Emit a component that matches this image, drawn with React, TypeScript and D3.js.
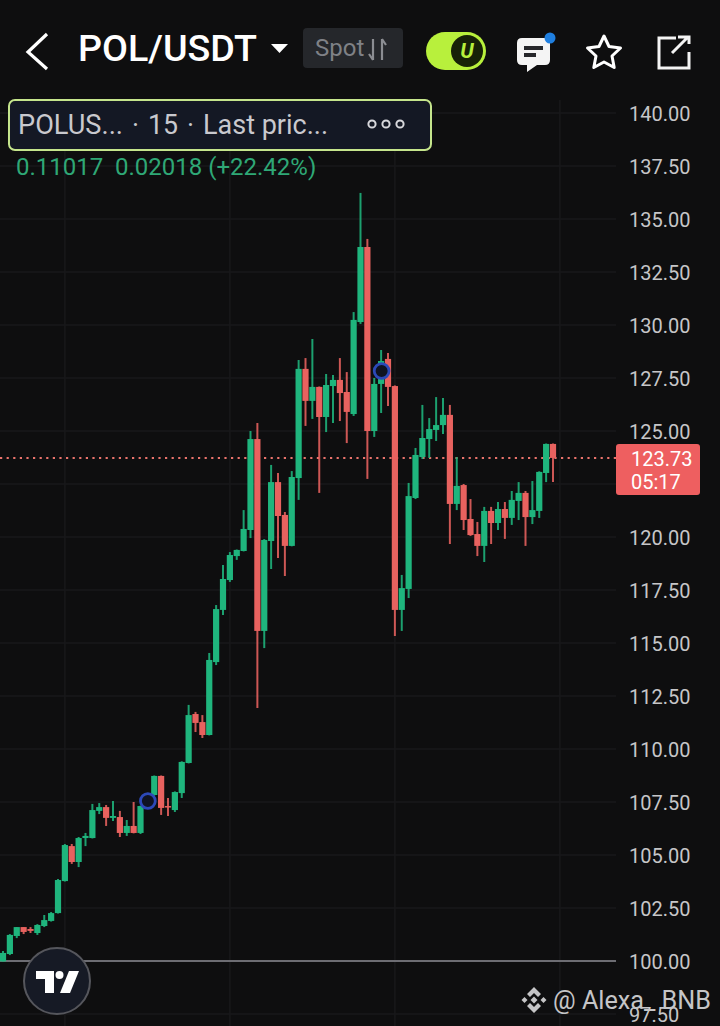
import React from "react";
import * as d3 from "d3";

const opens = [99.98,100.33,101.18,101.60,101.51,101.32,101.65,101.89,102.26,103.77,105.42,104.67,105.80,105.80,107.08,107.26,106.75,106.79,106.04,106.37,106.04,107.31,107.83,108.73,107.31,107.12,107.92,109.34,111.65,111.27,110.66,114.10,116.56,117.97,119.10,119.34,120.33,124.62,115.57,119.81,122.59,121.04,119.58,122.78,127.93,126.42,127.08,125.66,127.12,127.41,126.84,125.80,130.14,133.68,125.00,127.22,128.40,127.12,116.56,117.55,121.84,123.77,124.62,125.05,125.28,125.76,121.56,122.45,120.85,120.14,119.58,121.23,120.66,121.32,120.90,121.70,122.08,120.94,121.23,123.02,124.39];
const highs = [100.47,101.27,101.60,101.60,101.60,101.74,102.17,102.31,103.87,105.52,105.52,105.85,106.04,107.41,107.45,107.36,107.55,107.08,106.65,107.50,107.33,107.78,108.75,108.75,107.69,108.00,109.42,112.08,111.75,111.60,114.53,116.79,118.68,119.29,119.41,121.27,125.00,125.38,119.90,123.40,123.02,121.18,123.11,128.35,128.44,129.34,127.10,127.69,127.64,128.44,127.78,130.61,136.23,134.06,127.50,128.82,128.68,127.15,118.21,122.55,124.20,126.23,125.61,126.60,126.56,126.23,123.77,122.50,121.79,120.71,121.42,121.42,121.65,121.65,122.17,122.59,122.17,122.64,123.10,124.41,124.41];
const lows = [99.98,100.28,101.08,101.27,101.32,101.23,101.60,101.86,102.24,103.75,104.58,104.43,105.42,105.78,106.93,106.37,106.60,105.85,105.90,106.02,105.99,107.29,107.80,106.89,106.84,107.03,107.69,109.32,110.80,110.52,110.64,113.96,116.32,117.88,118.92,119.32,119.95,111.93,114.76,118.49,119.01,118.16,119.56,121.75,125.24,125.57,122.08,124.95,125.38,125.47,124.43,125.71,130.05,122.74,124.72,125.85,126.18,115.33,115.57,117.12,121.79,123.68,123.73,124.53,124.86,119.67,121.27,120.33,120.05,119.10,118.82,119.67,120.33,119.91,120.57,120.80,119.58,120.61,120.90,122.59,122.59];
const closes = [100.38,101.23,101.60,101.37,101.42,101.70,101.93,102.26,103.82,105.47,104.67,105.80,105.90,107.12,107.26,106.75,106.84,106.04,106.37,106.04,107.31,107.64,108.73,107.22,107.26,107.97,109.39,111.60,111.23,110.66,114.20,116.60,118.02,119.15,119.39,120.38,124.62,115.57,119.86,122.59,120.99,119.58,122.83,127.93,126.42,127.08,125.66,127.17,127.41,126.79,125.90,130.24,133.68,125.00,127.22,128.30,127.08,116.56,117.59,121.93,123.87,124.67,125.09,125.28,125.76,121.56,122.41,120.80,120.09,119.58,121.23,120.66,121.32,120.90,121.75,122.08,120.94,121.27,123.07,124.39,123.73];

const priceTicks = [140,137.5,135,132.5,130,127.5,125,122.5,120,117.5,115,112.5,110,107.5,105,102.5,100,97.5];
const axisLabels = ["140.00","137.50","135.00","132.50","130.00","127.50","125.00",null,"120.00","117.50","115.00","112.50","110.00","107.50","105.00","102.50","100.00","97.50"];
const gridIndexes = [9, 33, 57, 81];
const markerIndexes = [21, 55];
const markerPrices = [107.55, 127.83];
const lastPrice = 123.73;
const basePrice = 100;
const countdown = "05:17";
const symbol = "POL/USDT";
const legendParts = ["POLUS...", "·", "15", "·", "Last pric..."];
const statsA = "0.11017";
const statsB = "0.02018 (+22.42%)";
const watermark = "@ Alexa_ BNB";

const BG = "#0e0e0f";
const UP = "#1fb57d";
const DOWN = "#e8625f";
const FONT = "Roboto, sans-serif";

export default function App() {
  const W = 720, H = 1026, plotR = 616;
  const y = d3.scaleLinear().domain([100, 140]).range([961, 113]);
  const x = d3.scaleLinear().domain([0, 80]).range([3, 553]);
  const bodyW = 6.2;

  return (
    <svg width={W} height={H} viewBox={`0 0 ${W} ${H}`} style={{ position: "absolute", left: 0, top: 0, background: BG }} fontFamily={FONT}>
      <rect width={W} height={H} fill={BG} />
      {priceTicks.map((t) => (
        <line key={t} x1={0} x2={plotR} y1={y(t)} y2={y(t)} stroke="#19191b" strokeWidth={1.5} />
      ))}
      {gridIndexes.map((i) => (
        <line key={i} x1={x(i)} x2={x(i)} y1={100} y2={H} stroke="#19191b" strokeWidth={1.5} />
      ))}
      <line x1={0} x2={plotR} y1={y(basePrice)} y2={y(basePrice)} stroke="#6d6d73" strokeWidth={1.8} />
      <line x1={0} x2={plotR} y1={y(lastPrice)} y2={y(lastPrice)} stroke="#e9736c" strokeWidth={2} strokeDasharray="2.2 4.4" />
      {opens.map((o, i) => {
        const c = closes[i];
        const col = c >= o ? UP : DOWN;
        const top = y(Math.max(o, c));
        const bot = y(Math.min(o, c));
        return (
          <g key={i}>
            <line x1={x(i)} x2={x(i)} y1={y(highs[i])} y2={y(lows[i])} stroke={col} strokeWidth={2} opacity={0.88} />
            <rect x={x(i) - bodyW / 2} y={top} width={bodyW} height={Math.max(bot - top, 1.5)} fill={col} />
          </g>
        );
      })}
      {markerIndexes.map((idx, k) => (
        <circle key={idx} cx={x(idx) + 0.5} cy={y(markerPrices[k])} r={7.4} fill="#0f1322" stroke="#2c49b8" strokeWidth={2.8} />
      ))}
      {axisLabels.map((l, i) =>
        l ? (
          <text key={l} x={629} y={y(priceTicks[i]) + 1} dy="0.36em" fontSize={20} fill="#c6c6c8">{l}</text>
        ) : null
      )}
      <rect x={616} y={444} width={84} height={51} rx={3} fill="#ee5f60" />
      <text x={631} y={459} dy="0.36em" fontSize={20} fill="#fff">{lastPrice.toFixed(2)}</text>
      <text x={631} y={482} dy="0.36em" fontSize={20} fill="#fff">{countdown}</text>

      <path d="M47 34 L28 52 L47 69" fill="none" stroke="#fff" strokeWidth={3.2} />
      <text x={78} y={61} fontSize={37} fontWeight={500} fill="#fff" textLength={179} lengthAdjust="spacingAndGlyphs">{symbol}</text>
      <path d="M271 44 H288 L279.5 53 Z" fill="#fff" />
      <rect x={303} y={28} width={100} height={40} rx={4} fill="#25272b" />
      <text x={315} y={56} fontSize={24} fill="#7f8186">Spot</text>
      <path d="M373 39 V60 M373 60 L369 54 M382 60 V39 M382 39 L386 45" fill="none" stroke="#8b8d92" strokeWidth={2.2} />
      <rect x={426} y={32} width={60} height={38} rx={19} fill="#b8f03c" />
      <circle cx={467} cy={51} r={16} fill="#172207" />
      <text x={467} y={58} fontSize={21} fontWeight={700} fontStyle="italic" textAnchor="middle" fill="#b8f03c">U</text>
      <path d="M522 38 H545 Q550 38 550 43 V60 Q550 65 545 65 H537 L527 72 V65 H522 Q517 65 517 60 V43 Q517 38 522 38 Z" fill="#f4f4f4" />
      <rect x={524} y={46} width={19} height={4} fill="#26272a" />
      <rect x={524} y={53} width={12} height={4} fill="#26272a" />
      <circle cx={550} cy={38} r={5.5} fill="#1f7fe0" />
      <path d="M604 36 L609 46.5 L620.5 48 L612 56 L614.2 67.5 L604 62 L593.8 67.5 L596 56 L587.5 48 L599 46.5 Z" fill="none" stroke="#fff" strokeWidth={3} strokeLinejoin="round" />
      <path d="M676 38 H659 V68 H689 V52 M672 53 L688 37 M678 37 H689 V44" fill="none" stroke="#f4f4f4" strokeWidth={3} />

      <rect x={9} y={100} width={422} height={50} rx={6} fill="#141824" stroke="#c5e58c" strokeWidth={2} />
      <g fontSize={27} fill="#c9c9ce">
        <text x={18} y={134} textLength={105} lengthAdjust="spacingAndGlyphs">{legendParts[0]}</text>
        <text x={132} y={134}>{legendParts[1]}</text>
        <text x={148} y={134} textLength={30} lengthAdjust="spacingAndGlyphs">{legendParts[2]}</text>
        <text x={187} y={134}>{legendParts[3]}</text>
        <text x={203} y={134} textLength={125} lengthAdjust="spacingAndGlyphs">{legendParts[4]}</text>
      </g>
      {[372, 386, 400].map((cx) => (
        <circle key={cx} cx={cx} cy={124} r={3.6} fill="none" stroke="#d8d8dc" strokeWidth={2} />
      ))}
      <text x={16} y={175} fontSize={24} fill="#2fa876">{statsA}</text>
      <text x={115} y={175} fontSize={24} fill="#2fa876">{statsB}</text>

      <circle cx={57} cy={981} r={33} fill="#161a25" stroke="#55565c" strokeWidth={2} />
      <path d="M36 971 H54 V993 H45 V979 H36 Z" fill="#fff" />
      <circle cx={59.5} cy={975} r={4} fill="#fff" />
      <path d="M69 971 H79 L70 993 H60 Z" fill="#fff" />

      <g fill="#c5c5c7">
        <path d="M534 987 L541 994 L538 997 L534 993 L530 997 L527 994 Z" />
        <path d="M534 1013 L541 1006 L538 1003 L534 1007 L530 1003 L527 1006 Z" />
        <path d="M534 996.5 L537.5 1000 L534 1003.5 L530.5 1000 Z" />
        <path d="M524.5 997 L527.5 1000 L524.5 1003 L521.5 1000 Z" />
        <path d="M543.5 997 L546.5 1000 L543.5 1003 L540.5 1000 Z" />
      </g>
      <text x={553} y={1009} fontSize={25} fill="#c5c5c7" textLength={158} lengthAdjust="spacingAndGlyphs">{watermark}</text>
    </svg>
  );
}
